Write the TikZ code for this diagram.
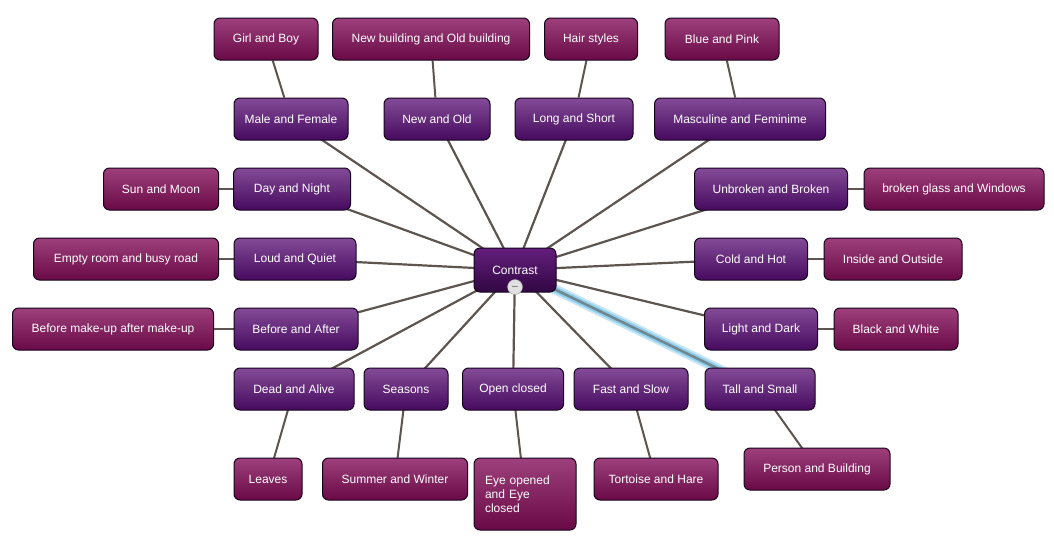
\documentclass[tikz,border=0pt]{standalone}
\usepackage{fontspec}
\setmainfont{Liberation Sans}
\usetikzlibrary{backgrounds}
\definecolor{pA}{RGB}{100,30,125}
\definecolor{pB}{RGB}{70,10,95}
\definecolor{mA}{RGB}{140,30,100}
\definecolor{mB}{RGB}{105,10,70}
\definecolor{edge}{RGB}{95,85,80}
\definecolor{glow}{RGB}{140,205,235}
\tikzset{
 x=1pt,y=-1pt,
 box/.style={rounded corners=6pt,draw=black!70!pB,line width=1pt,text=white,
   font=\fontsize{12}{14}\selectfont,minimum height=42pt,inner sep=2pt},
 lvone/.style={box,top color=pA!80!white,bottom color=pB},
 lvtwo/.style={box,top color=mA!85!white,bottom color=mB},
 link/.style={edge,line width=2.2pt},
 sub/.style={edge,line width=2pt}
}
\begin{document}
\begin{tikzpicture}
\useasboundingbox (0,0) rectangle (1054,542);
\node[lvone,minimum width=82pt,minimum height=44pt,top color=pA,bottom color=pB!70!black] (c) at (515,270) {Contrast};
\node[circle,fill=black!12,draw=black!40,inner sep=0pt,minimum size=15pt,font=\bfseries] (minus) at (515,287) {$-$};
% level 1
\node[lvone,minimum width=114pt] (mf) at (291,119) {Male and Female};
\node[lvone,minimum width=106pt] (no) at (437,119) {New and Old};
\node[lvone,minimum width=118pt] (ls) at (574,119) {Long and Short};
\node[lvone,minimum width=171pt] (masc) at (740,119) {Masculine and Feminime};
\node[lvone,minimum width=117pt] (dn) at (292,189) {Day and Night};
\node[lvone,minimum width=153pt] (ub) at (771,189) {Unbroken and Broken};
\node[lvone,minimum width=122pt] (lq) at (295,259) {Loud and Quiet};
\node[lvone,minimum width=113pt] (ch) at (751,259) {Cold and Hot};
\node[lvone,minimum width=124pt] (ba) at (296,329) {Before and After};
\node[lvone,minimum width=113pt] (ld) at (761,329) {Light and Dark};
\node[lvone,minimum width=120pt] (da) at (294,389) {Dead and Alive};
\node[lvone,minimum width=84pt] (se) at (406,389) {Seasons};
\node[lvone,minimum width=101pt] (oc) at (513,389) {Open closed};
\node[lvone,minimum width=114pt] (fs) at (631,389) {Fast and Slow};
\node[lvone,minimum width=110pt] (ts) at (760,389) {Tall and Small};
% level 2
\node[lvtwo,minimum width=104pt] (gb) at (266,39) {Girl and Boy};
\node[lvtwo,minimum width=197pt] (nb) at (431,39) {New building and Old building};
\node[lvtwo,minimum width=93pt] (hs) at (591,39) {Hair styles};
\node[lvtwo,minimum width=114pt] (bp) at (722,39) {Blue and Pink};
\node[lvtwo,minimum width=115pt] (sm) at (161,189) {Sun and Moon};
\node[lvtwo,minimum width=180pt] (bg) at (954,189) {broken glass and Windows};
\node[lvtwo,minimum width=185pt] (er) at (126,259) {Empty room and busy road};
\node[lvtwo,minimum width=138pt] (io) at (893,259) {Inside and Outside};
\node[lvtwo,minimum width=201pt] (bm) at (113,329) {Before make-up after make-up};
\node[lvtwo,minimum width=124pt] (bw) at (896,329) {Black and White};
\node[lvtwo,minimum width=68pt] (lv) at (268,479) {Leaves};
\node[lvtwo,minimum width=145pt] (sw) at (395,479) {Summer and Winter};
\node[lvtwo,minimum width=102pt,minimum height=72pt,align=left,text width=80pt] (eo) at (525,494) {Eye opened\\and Eye\\closed};
\node[lvtwo,minimum width=124pt] (th) at (656,479) {Tortoise and Hare};
\node[lvtwo,minimum width=146pt] (pb) at (817,469) {Person and Building};
\begin{scope}[on background layer]
\fill[white] (0,0) rectangle (1054,542);
\draw[glow,line width=10pt,opacity=0.5] (c.center) -- (ts.center);
\draw[glow,line width=6pt] (c.center) -- (ts.center);
\draw[edge!60!glow,line width=2.4pt] (c.center) -- (ts.center);
\foreach \n in {mf,no,ls,masc,dn,ub,lq,ch,ba,ld,da,se,oc,fs}
  \draw[link] (c.center) -- (\n.center);
\draw[sub] (mf) -- (gb); \draw[sub] (no) -- (nb); \draw[sub] (ls) -- (hs);
\draw[sub] (masc) -- (bp); \draw[sub] (dn) -- (sm); \draw[sub] (ub) -- (bg);
\draw[sub] (lq) -- (er); \draw[sub] (ch) -- (io); \draw[sub] (ba) -- (bm);
\draw[sub] (ld) -- (bw); \draw[sub] (da.center) -- (lv.center); \draw[sub] (se.center) -- (sw.center);
\draw[sub] (oc.center) -- (eo.center); \draw[sub] (fs.center) -- (th.center); \draw[sub] (ts.center) -- (pb.center);
\end{scope}
\end{tikzpicture}
\end{document}
